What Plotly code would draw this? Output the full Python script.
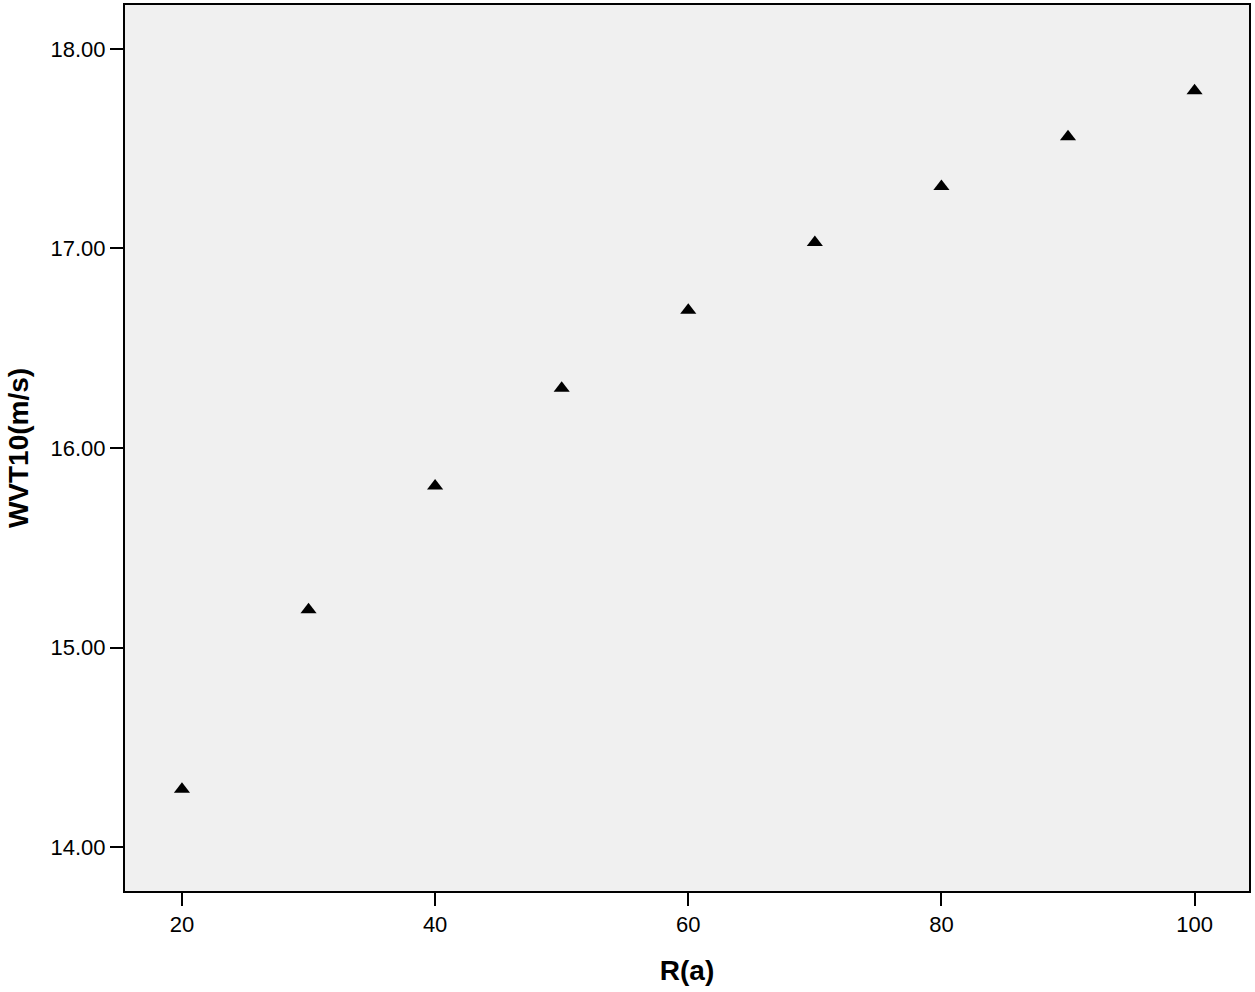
import plotly.graph_objects as go

r_a = [20, 30, 40, 50, 60, 70, 80, 90, 100]
wvt10 = [14.29, 15.19, 15.81, 16.30, 16.69, 17.03, 17.31, 17.56, 17.79]
x_ticks = [20, 40, 60, 80, 100]
y_ticks = [14.0, 15.0, 16.0, 17.0, 18.0]
y_tick_labels = ["14.00", "15.00", "16.00", "17.00", "18.00"]

fig = go.Figure()
fig.add_trace(go.Scatter(
    x=r_a, y=wvt10, mode="markers",
    marker=dict(symbol="triangle-up", size=14, color="black",
                line=dict(width=0)),
    showlegend=False,
))

font_family = "Liberation Sans, Arial, sans-serif"
fig.update_layout(
    width=1255, height=992,
    margin=dict(l=125, r=6, t=3, b=101),
    paper_bgcolor="white",
    plot_bgcolor="#f0f0f0",
    font=dict(family=font_family, color="black"),
    xaxis=dict(
        range=[15.5, 104.3], tickvals=x_ticks,
        showline=True, linecolor="black", linewidth=2, mirror=True,
        ticks="outside", ticklen=13, tickwidth=2, tickcolor="black",
        showgrid=False, zeroline=False,
        tickfont=dict(size=22, family=font_family),
        title=dict(text="<b>R(a)</b>", font=dict(size=28, family=font_family), standoff=24),
    ),
    yaxis=dict(
        range=[13.78, 18.22], tickvals=y_ticks, ticktext=y_tick_labels,
        showline=True, linecolor="black", linewidth=2, mirror=True,
        ticks="outside", ticklen=13, tickwidth=2, tickcolor="black",
        showgrid=False, zeroline=False,
        tickfont=dict(size=22, family=font_family),
        title=dict(text="<b>WVT10(m/s)</b>", font=dict(size=28, family=font_family), standoff=14),
    ),
)

fig.write_html(
    "out.html",
    config={"displayModeBar": False},
    post_script="document.body.style.margin='0';document.body.style.overflow='hidden';",
)
